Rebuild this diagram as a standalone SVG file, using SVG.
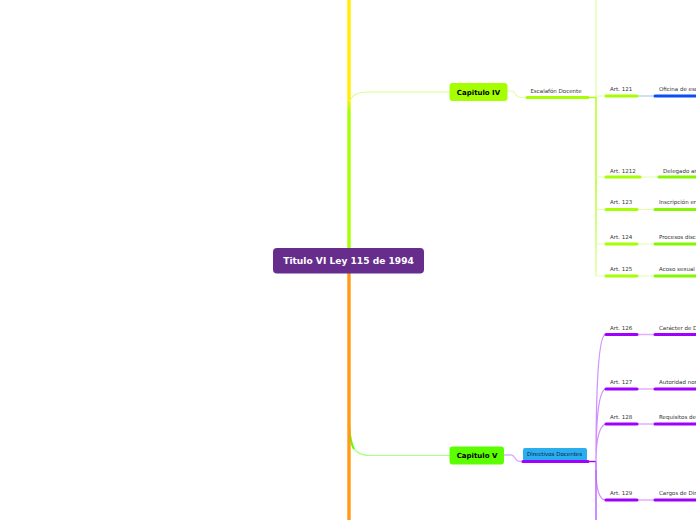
<svg xmlns="http://www.w3.org/2000/svg" width="696" height="520" viewBox="0 0 696 520">
<defs>
<linearGradient id="spine" gradientUnits="userSpaceOnUse" x1="0" y1="0" x2="0" y2="260"><stop offset="0.385" stop-color="#ffee00"/><stop offset="0.43" stop-color="#a6ff00"/></linearGradient>
<linearGradient id="lime" gradientUnits="userSpaceOnUse" x1="0" y1="97" x2="0" y2="276"><stop offset="0" stop-color="#b6ff2a"/><stop offset="0.5" stop-color="#b6ff2a"/><stop offset="1" stop-color="#e2ffb0"/></linearGradient>
</defs>
<style>
text{font-family:"DejaVu Sans",Verdana,sans-serif}
.lbl{font-size:5.5px;fill:#333}
.cap{font-size:7px;font-weight:700;fill:#000}
.bar{stroke-width:3;stroke-linecap:round;fill:none}
.lm{stroke:#a6ff00}.pp{stroke:#a000ff}.bl{stroke:#0a4ff0}.gn{stroke:#86f500}
.ll{stroke:#e2ffb0;stroke-width:1.2;fill:none}
.lp{stroke:#e0b0ff;stroke-width:1.4;fill:none}
.lv{stroke:#d090ff;stroke-width:1.3;fill:none}
</style>
<g id="connectors">
<path d="M349 0V260" stroke="url(#spine)" stroke-width="3.4" fill="none"/>
<path d="M350 102C351 96 356 92 368 92H450" stroke="#d8ff88" stroke-width="1.2" fill="none"/>
<path d="M351 442C353 450 358 455.500 370 455.500H450" stroke="#a8ff80" stroke-width="1.2" fill="none"/>
<path d="M349 425C350 438 351 444 354 449" stroke="#5cff00" stroke-width="2" fill="none"/>
<path d="M349 270V520" stroke="#ff9a14" stroke-width="3.4" fill="none"/>
<path class="ll" d="M504 91H511C516 91 515 97.500 520 97.500H526"/>
<path class="lp" d="M504 455H511C516 455 514 461.500 520 461.500H523"/>
<path d="M596 0V97" stroke="#e2ffb0" stroke-width="1.4" fill="none"/>
<path d="M596 97V276" stroke="url(#lime)" stroke-width="1.6" fill="none"/>
<path d="M589 97.500H596" stroke="#a6ff00" stroke-width="1.4"/>
<path class="ll" d="M596 96H605M596 177H605M596 209.500H605M596 244H605M596 276H605"/>
<path d="M638 96H654" stroke="#b8d0ff" stroke-width="1.4"/>
<path class="ll" d="M641 177H658M638 209.500H654M638 244H654M638 276H654"/>
<path d="M589 461.500H596" stroke="#a000ff" stroke-width="1.4"/>
<path class="lv" d="M596 461.500C596 400 598 338 605 334.500M596 461.500C596 425 598 393 605 389M596 461.500C596 445 598 428 605 424M596 470C596 488 599 500 606 500"/>
<path d="M596 461.500V520" stroke="#b85cff" stroke-width="1.4" fill="none"/>
<path class="lp" d="M638 334.500H654M638 389H654M638 424H654M638 500H654"/>
</g>
<g id="root"><rect x="273" y="248" width="151" height="25.500" rx="4" fill="#662d8c"/><text x="348.500" y="264" text-anchor="middle" font-size="9.100" font-weight="700" fill="#fff">Titulo VI Ley 115 de 1994</text></g>
<g id="capitulo-iv"><rect x="449.500" y="83" width="58" height="18" rx="3" fill="#a6ff00"/><text class="cap" x="478.500" y="95" text-anchor="middle">Capitulo IV</text></g>
<g id="escalafon"><text class="lbl" x="556" y="93" text-anchor="middle">Escalafón Docente</text><path class="bar lm" d="M527 97.500H588"/></g>
<g id="capitulo-v"><rect x="449.500" y="446.500" width="54.500" height="18" rx="3" fill="#5cff00"/><text class="cap" x="477" y="458" text-anchor="middle">Capitulo V</text></g>
<g id="directivos"><rect x="523" y="448" width="64" height="13" rx="2" fill="#2aaef0"/><text class="lbl" x="554.500" y="456" text-anchor="middle" style="fill:#0a2540">Directivos Docentes</text><path class="bar pp" d="M523 461.500H588"/></g>
<g id="art-121"><text class="lbl" x="610" y="91">Art. 121</text><path class="bar lm" d="M606 96H637"/></g>
<g id="oficina"><text class="lbl" x="659" y="91">Oficina de esc</text><path class="bar bl" d="M655 96H696"/></g>
<g id="art-1212"><text class="lbl" x="610" y="173">Art. 1212</text><path class="bar lm" d="M606 177H640"/></g>
<g id="delegado"><text class="lbl" x="663" y="173">Delegado ar</text><path class="bar gn" d="M659 177H696"/></g>
<g id="art-123"><text class="lbl" x="610" y="204">Art. 123</text><path class="bar lm" d="M606 209.500H637"/></g>
<g id="inscripcion"><text class="lbl" x="659" y="204">Inscripción er</text><path class="bar gn" d="M655 209.500H696"/></g>
<g id="art-124"><text class="lbl" x="610" y="239">Art. 124</text><path class="bar lm" d="M606 244H637"/></g>
<g id="procesos"><text class="lbl" x="659" y="239">Procesos disc</text><path class="bar gn" d="M655 244H696"/></g>
<g id="art-125"><text class="lbl" x="610" y="271">Art. 125</text><path class="bar lm" d="M606 276H637"/></g>
<g id="acoso"><text class="lbl" x="659" y="271">Acoso sexual</text><path class="bar gn" d="M655 276H696"/></g>
<g id="art-126"><text class="lbl" x="610" y="330">Art. 126</text><path class="bar pp" d="M606 334.500H637"/></g>
<g id="caracter"><text class="lbl" x="659" y="330">Carácter de D</text><path class="bar pp" d="M655 334.500H696"/></g>
<g id="art-127"><text class="lbl" x="610" y="384">Art. 127</text><path class="bar pp" d="M606 389H637"/></g>
<g id="autoridad"><text class="lbl" x="659" y="384">Autoridad nor</text><path class="bar pp" d="M655 389H696"/></g>
<g id="art-128"><text class="lbl" x="610" y="419">Art. 128</text><path class="bar pp" d="M606 424H637"/></g>
<g id="requisitos"><text class="lbl" x="659" y="419">Requisitos de</text><path class="bar pp" d="M655 424H696"/></g>
<g id="art-129"><text class="lbl" x="610" y="495">Art. 129</text><path class="bar pp" d="M606 500H637"/></g>
<g id="cargos"><text class="lbl" x="659" y="495">Cargos de Dir</text><path class="bar pp" d="M655 500H696"/></g>
</svg>
